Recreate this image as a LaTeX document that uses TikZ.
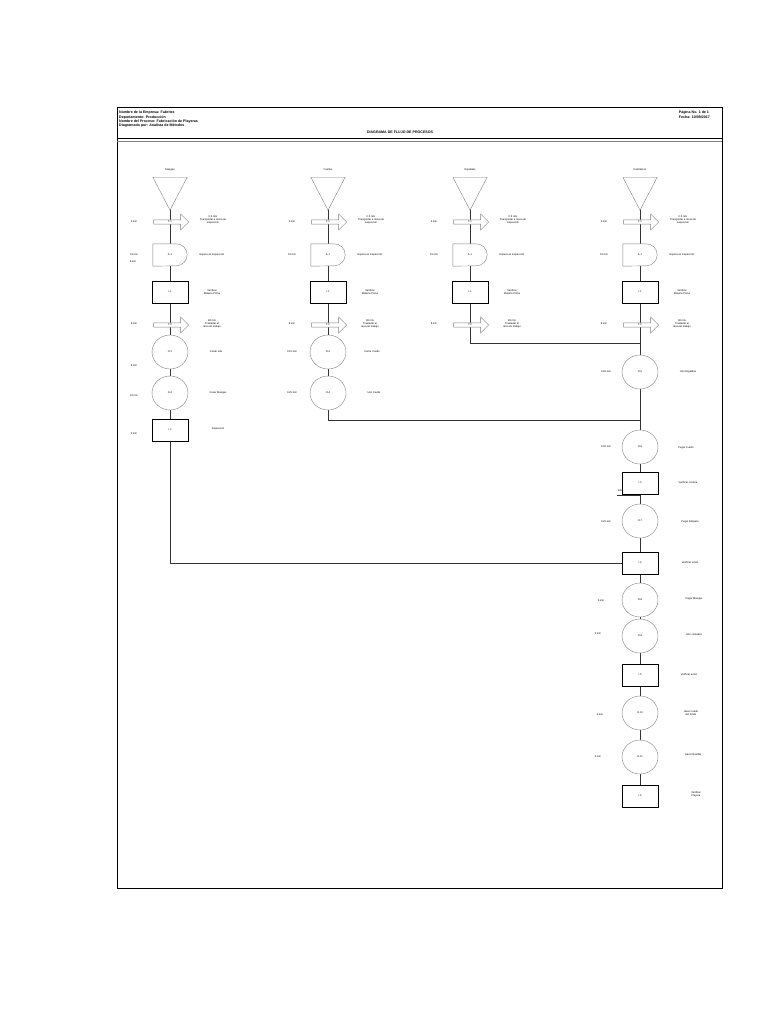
\documentclass[tikz,border=0pt]{standalone}
\usepackage{fontspec}
\setmainfont{Liberation Sans}
\usetikzlibrary{shapes.geometric,shapes.arrows}
\begin{document}
\begin{tikzpicture}[x=1pt,y=-1pt,
 txt/.style={font=\fontsize{2.6}{3}\selectfont,align=center,inner sep=0},
 hdr/.style={font=\fontsize{3.6}{4.2}\selectfont\bfseries,align=left,inner sep=0,anchor=north west},
 tri/.style={draw=gray,fill=white,isosceles triangle,shape border rotate=270,isosceles triangle apex angle=55,minimum width=34,minimum height=33,inner sep=0,anchor=north},
 tra/.style={draw=gray,fill=white,single arrow,single arrow head extend=3,minimum width=16,minimum height=35,inner sep=0,font=\fontsize{2.6}{3}\selectfont},
 opr/.style={draw=gray,fill=white,ellipse,minimum width=36,minimum height=34,inner sep=0,font=\fontsize{2.6}{3}\selectfont},
 ins/.style={draw,thick,fill=white,rectangle,minimum width=36,minimum height=22,inner sep=0,font=\fontsize{2.6}{3}\selectfont},
 dly/.style={rectangle,minimum width=34,minimum height=22,inner sep=0,font=\fontsize{2.6}{3}\selectfont},
 flow/.style={line width=1pt,draw=black!80}]
\useasboundingbox (0,0) rectangle (768,1024);
\draw[line width=1pt] (117,108) rectangle (722,888);
\draw[line width=1pt] (117,139) -- (722,139);
\draw[gray] (117,141) -- (722,141);
\node[hdr] (h1) at (119,111) {Nombre de la Empresa: Fabritex\\Departamento: Producción\\Nombre del Proceso: Fabricación de Playeras\\Diagramado por: Analista de Métodos};
\node[hdr,anchor=north east,align=left] (h2) at (710,111) {Página No. 1 de 1\\Fecha: 10/09/2017};
\node[hdr,anchor=center] (h3) at (400,132) {DIAGRAMA DE FLUJO DE PROCESOS};
% flow lines
\coordinate (j1) at (170,563); \coordinate (j2) at (328,420); \coordinate (j3) at (470,343);
\coordinate (k2) at (640,420); \coordinate (k3) at (640,343);
\draw[flow] (170,205) -- (j1) -- (640,563);
\draw[flow] (328,205) -- (j2) -- (k2);
\draw[flow] (470,205) -- (j3) -- (k3);
\draw[flow] (640,205) -- (640,796);
\coordinate (e1) at (617,495); \coordinate (e2) at (640,495);
\draw[flow] (e1) -- (e2);
\node[txt] (et) at (623,491) {Etiqueta};
% column titles & triangles
\foreach \n/\x/\t in {a/170/Mangas,b/328/Cuellos,c/470/Espaldas,d/640/Delanteros}{
 \node[txt] (t\n) at (\x,170) {\t};
 \node[tri] (s\n) at (\x,177) {};
 \node[tra] (r\n) at (\x,222) {T-1};
 \node[dly] (q\n) at (\x,255) {};
 \draw[gray,fill=white] (q\n.north west) -- ([xshift=-11]q\n.north east) arc(-90:90:11) -- (q\n.south west) -- cycle;
 \node[txt] at (q\n) {A-1};
 \node[ins] (i\n) at (\x,292) {I-1};
 \node[tra] (v\n) at (\x,325) {T-2};
 \node[txt] (qt\n) at (\x+42,255) {Espera en inspección};
 \node[txt] (it\n) at (\x+42,292) {Verificar\\Materia Prima};
 \node[txt] (rt\n) at (\x+43,220) {0.5 mts\\Transportar a mesa de\\inspección};
 \node[txt] (vt\n) at (\x+42,324) {80 mts\\Trasladar al\\área de trabajo};
 \node[txt] (rl\n) at (\x-36,222) {5 min};
 \node[txt] (ql\n) at (\x-36,255) {15 min};
 \node[txt] (vl\n) at (\x-36,324) {8 min};
}
% column a
\node[opr] (oa1) at (170,352) {O-1}; \node[txt] at (216,352) {Cortar tela};
\node[opr] (oa2) at (170,393) {O-2}; \node[txt] at (218,393) {Coser Mangas};
\node[ins] (ia2) at (170,430) {I-2}; \node[txt] at (218,429) {Inspección};
\node[txt] at (134,366) {8 min}; \node[txt] at (134,396) {10 min}; \node[txt] at (134,434) {5 min};
\node[txt] at (133,262) {8 min};
% column b
\node[opr] (ob1) at (328,352) {O-3}; \node[txt] at (372,352) {Cortar Cuello};
\node[opr] (ob2) at (328,393) {O-4}; \node[txt] at (374,393) {Unir Cuello};
\node[txt] at (292,352) {0.15 min}; \node[txt] at (292,393) {0.25 min};
% column d
\node[opr] (od1) at (640,372) {O-5}; \node[txt] at (688,372) {Unir Espaldas};
\node[txt] at (606,372) {0.45 min};
\node[opr] (od2) at (640,447) {O-6}; \node[txt] at (686,448) {Pegar Cuello}; \node[txt] at (606,447) {0.30 min};
\node[ins] (id1) at (640,483) {I-3}; \node[txt] at (688,483) {Verificar costura};
\node[opr] (od3) at (640,521) {O-7}; \node[txt] at (690,522) {Pegar Etiqueta}; \node[txt] at (606,522) {0.20 min};
\node[ins] (id2) at (640,563) {I-4}; \node[txt] at (690,563) {Verificar unión};
\node[opr] (od4) at (640,600) {O-8}; \node[txt] at (694,599) {Pegar Mangas}; \node[txt] at (601,601) {5 min};
\node[opr] (od5) at (640,636) {O-9}; \node[txt] at (694,635) {Unir costados}; \node[txt] at (598,634) {5 min};
\node[ins] (id3) at (640,675) {I-5}; \node[txt] at (689,675) {Verificar unión};
\node[opr] (od6) at (640,713) {O-10}; \node[txt] at (691,713) {Hacer ruedo\\del fondo}; \node[txt] at (600,715) {6 min};
\node[opr] (od7) at (640,757) {O-11}; \node[txt] at (693,755) {Hacer Bastilla}; \node[txt] at (598,757) {5 min};
\node[ins] (id4) at (640,796) {I-6}; \node[txt] at (696,794) {Verificar\\Playera};
\end{tikzpicture}
\end{document}
